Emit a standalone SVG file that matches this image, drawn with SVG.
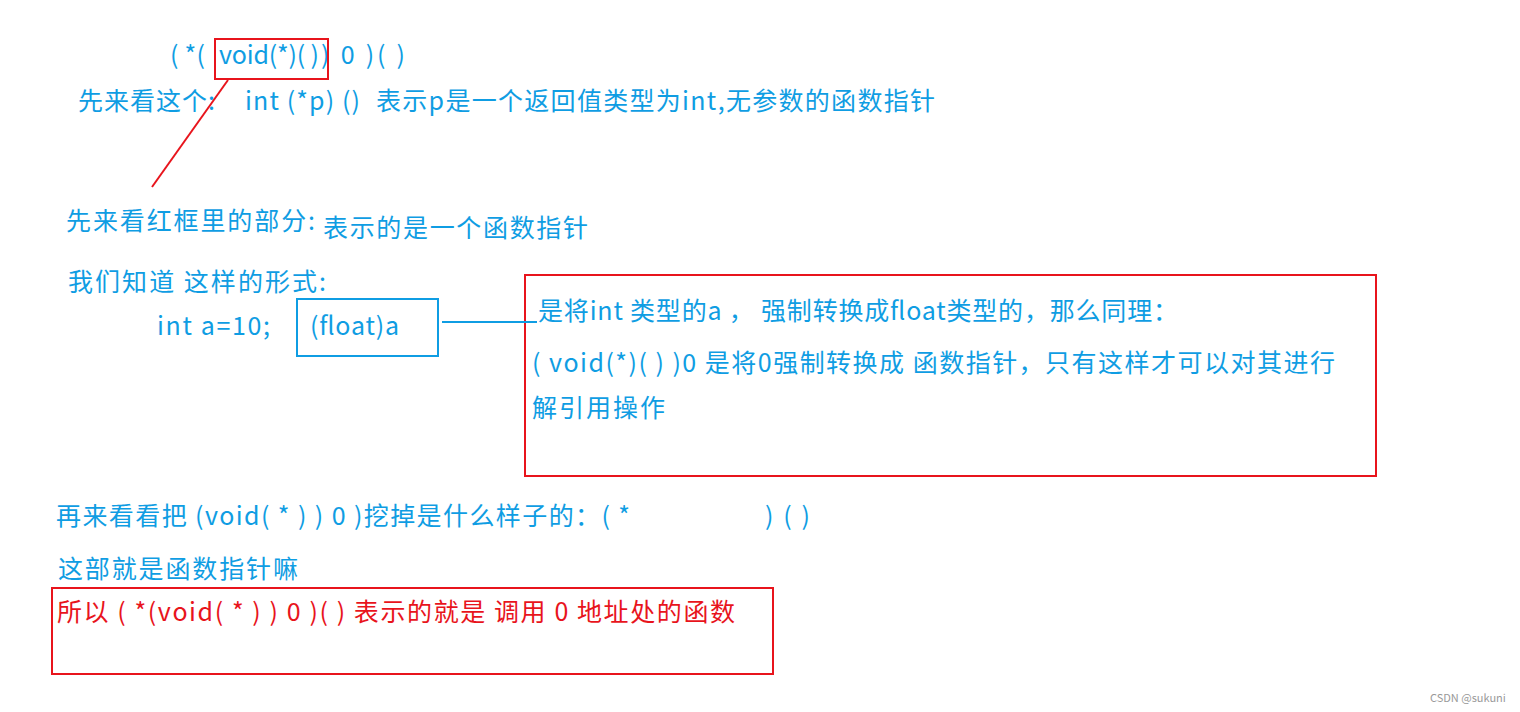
<svg xmlns="http://www.w3.org/2000/svg" width="1520" height="712" viewBox="0 0 1520 712">
<style>
text{font-family:"Noto Sans CJK SC","Liberation Sans",sans-serif;font-size:25px;white-space:pre}
.b{fill:#0f9de3}.r{fill:#e8141c}
.rb{fill:none;stroke:#e8141c;stroke-width:2}
.bb{fill:none;stroke:#0f9de3;stroke-width:2}
</style>
<rect width="1520" height="712" fill="#fff"/>
<g id="top">
<text class="b" x="170" y="64" textLength="35">( *(</text>
<text class="b" x="219" y="64" textLength="100">void(*)( )</text>
<text class="b" x="321" y="64" textLength="84">) 0 )( )</text>
<rect class="rb" x="215" y="39" width="113" height="40"/>
</g>
<g id="line1">
<text class="b" x="78" y="110" textLength="137">先来看这个:</text>
<text class="b" x="245" y="110" textLength="115">int (*p) ()</text>
<text class="b" x="376" y="110" textLength="559">表示p是一个返回值类型为int,无参数的函数指针</text>
</g>
<g id="line2"><text class="b" x="66" y="230" textLength="249">先来看红框里的部分:</text><text class="b" x="323" y="237" textLength="265">表示的是一个函数指针</text></g>
<g id="line3"><text class="b" x="68" y="291" textLength="258">我们知道 这样的形式:</text><text class="b" x="157" y="335" textLength="113">int a=10;</text></g>
<g id="float"><rect class="bb" x="297" y="299" width="141" height="57"/><text class="b" x="310" y="335" textLength="89">(float)a</text></g>
<g id="explain">
<rect class="rb" x="525" y="275" width="851" height="201"/>
<text class="b" x="538" y="320" textLength="640">是将int 类型的a ， 强制转换成float类型的，那么同理：</text>
<text class="b" x="532" y="372" textLength="803">( void(*)( ) )0 是将0强制转换成 函数指针，只有这样才可以对其进行</text>
<text class="b" x="532" y="417" textLength="133">解引用操作</text>
</g>
<g id="line4"><text class="b" x="56" y="525" textLength="574">再来看看把 (void( * ) ) 0 )挖掉是什么样子的：( *</text><text class="b" x="765" y="525" textLength="45">) ( )</text></g>
<g id="line5"><text class="b" x="58" y="578" textLength="240">这部就是函数指针嘛</text></g>
<g id="concl"><rect class="rb" x="52" y="588" width="721" height="86"/><text class="r" x="57" y="621" textLength="678">所以 ( *(void( * ) ) 0 )( ) 表示的就是 调用 0 地址处的函数</text></g>
<g id="connectors">
<line x1="228" y1="80" x2="152" y2="187" stroke="#e8141c" stroke-width="2"/>
<line x1="442" y1="322" x2="537" y2="322" stroke="#0f9de3" stroke-width="2"/>
</g>
<text x="1430" y="702" style="font-size:11px;fill:#999">CSDN @sukuni</text>
</svg>
